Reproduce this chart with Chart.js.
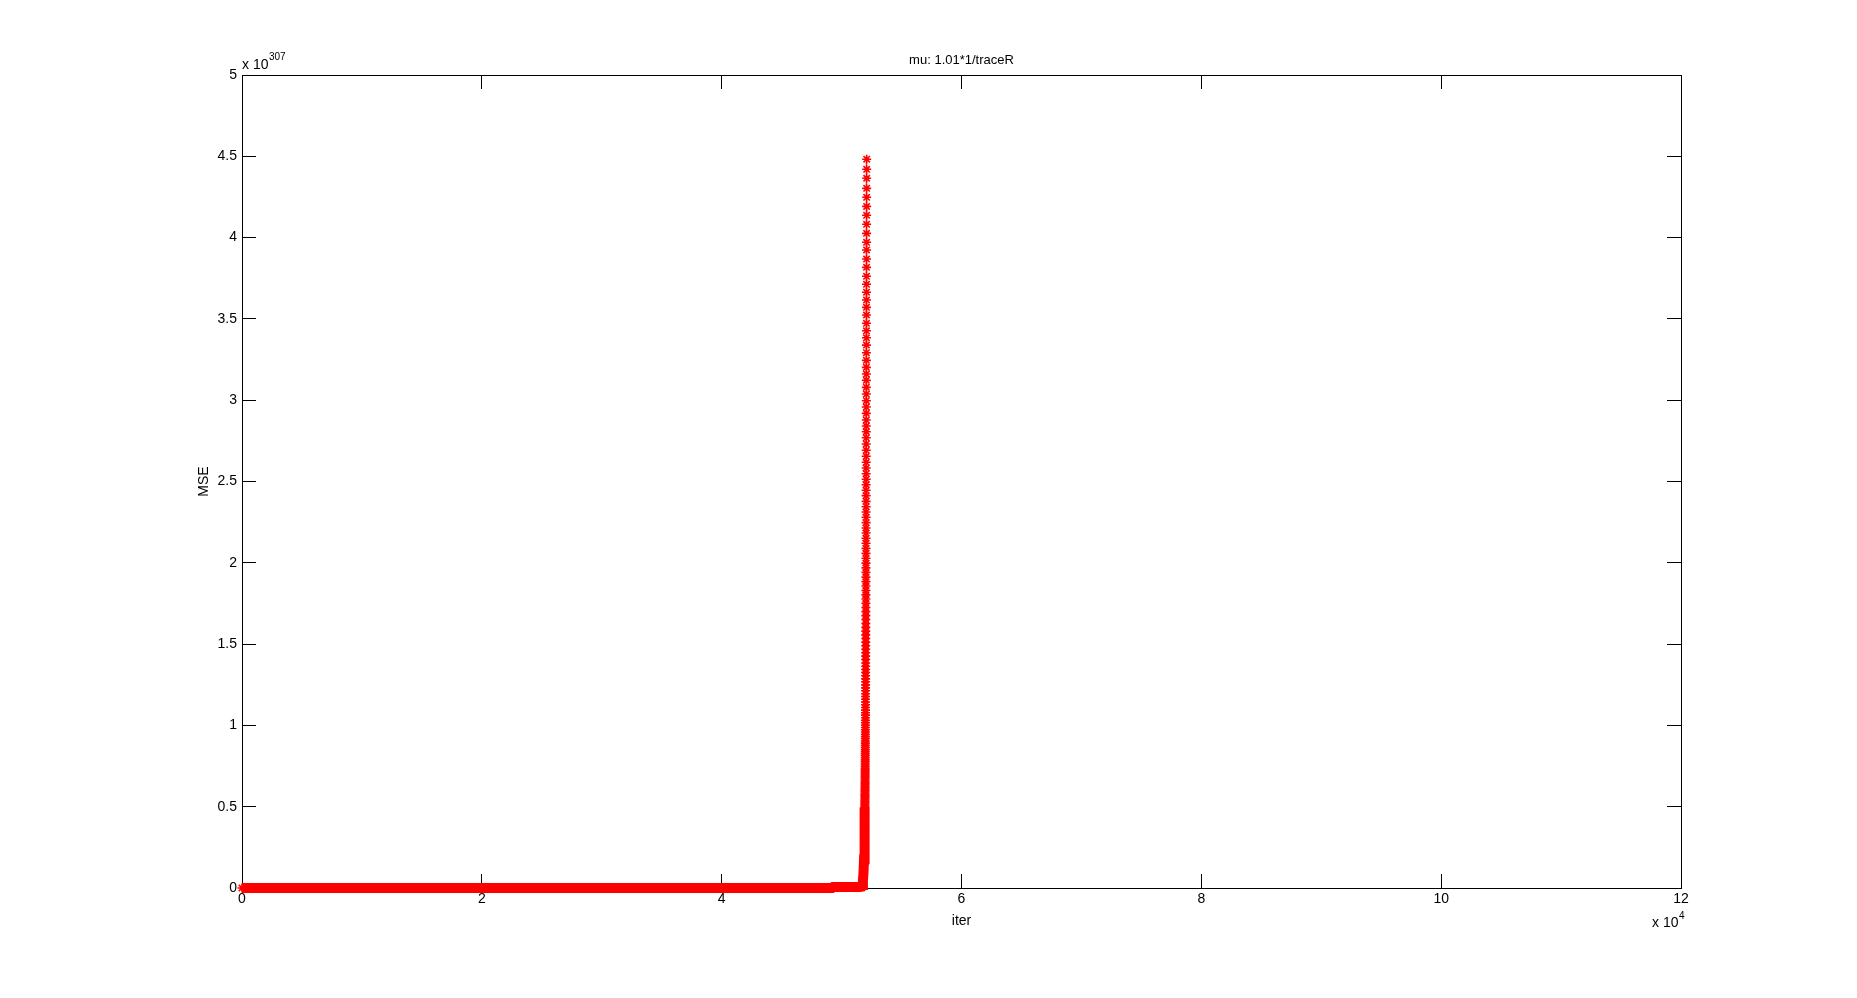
<!DOCTYPE html>
<html>
<head>
<meta charset="utf-8">
<script src="https://cdn.jsdelivr.net/npm/chart.js@4.4.1/dist/chart.umd.min.js"></script>
<style>
html,body{margin:0;padding:0;background:#ffffff;overflow:hidden;}
#c{display:block;}
</style>
</head>
<body>
<canvas id="c" width="1857" height="998"></canvas>
<script>
// ---- texts ----
const chartTitle = 'mu: 1.01*1/traceR';
const xAxisTitle = 'iter';
const yAxisTitle = 'MSE';
const xExponent = '4';
const yExponent = '307';

// ---- axis ranges / ticks (iterations raw, MSE in units of 1e307) ----
const xRange = [0, 120000];
const xTickStep = 20000;
const yRange = [0, 5];
const yTickStep = 0.5;

// ---- series: iteration numbers ----
const iterations = [
  0, 2000, 4000, 6000, 8000, 10000, 12000, 14000, 16000, 18000, 20000, 22000, 24000,
  26000, 28000, 30000, 32000, 34000, 36000, 38000, 40000, 42000, 44000, 46000, 48000, 49200,
  49300, 51500, 51660, 51720, 51780, 51830, 51870, 51900, 51920, 51940,
  51941, 51942, 51943, 51944, 51945, 51946, 51947, 51948, 51949, 51950,
  51951, 51952, 51953, 51954, 51955, 51956, 51957, 51958, 51959, 51960,
  51961, 51962, 51963, 51964, 51965, 51966, 51967, 51968, 51969, 51970,
  51971, 51972, 51973, 51974, 51975, 51976, 51977, 51978, 51979, 51980,
  51981, 51982, 51983, 51984, 51985, 51986, 51987, 51988, 51989, 51990,
  51991, 51992, 51993, 51994, 51995, 51996, 51997, 51998, 51999,
  52000, 52001, 52002, 52003, 52004, 52005, 52006, 52007, 52008, 52009,
  52010, 52011, 52012, 52013, 52014, 52015, 52016, 52017, 52018, 52019,
  52020, 52021, 52022, 52023, 52024, 52025, 52026, 52027, 52028, 52029,
  52030, 52031, 52032, 52033, 52034, 52035, 52036,
  52037, 52038, 52039, 52040, 52041, 52042, 52043, 52044, 52045, 52046,
  52047, 52048, 52049, 52050, 52051, 52052, 52053, 52054, 52055, 52056,
  52057, 52058, 52059, 52060, 52061, 52062, 52063, 52064, 52065, 52066,
  52067, 52068, 52069, 52070, 52071, 52072, 52073, 52074, 52075, 52076,
  52077, 52078,
  52079, 52080, 52081, 52082, 52083, 52084, 52085, 52086, 52087, 52088,
  52089, 52090, 52091, 52092, 52093, 52094
];

// ---- series: MSE values (x 10^307) ----
const mse = [
  0, 0, 0, 0, 0, 0, 0, 0, 0, 0, 0, 0, 0,
  0, 0, 0, 0, 0, 0, 0, 0, 0, 0, 0, 0, 0,
  0.006, 0.006, 0.008, 0.019, 0.047, 0.098, 0.177, 0.276, 0.370, 0.495,
  0.502, 0.510, 0.517, 0.525, 0.533, 0.541, 0.549, 0.557, 0.565, 0.573,
  0.581, 0.590, 0.599, 0.608, 0.617, 0.626, 0.635, 0.645, 0.654, 0.664,
  0.674, 0.684, 0.694, 0.704, 0.714, 0.725, 0.736, 0.747, 0.758, 0.769,
  0.780, 0.792, 0.804, 0.816, 0.828, 0.840, 0.852, 0.865, 0.878, 0.891,
  0.904, 0.918, 0.931, 0.945, 0.959, 0.973, 0.987, 1.002, 1.017, 1.032,
  1.047, 1.063, 1.078, 1.094, 1.110, 1.127, 1.144, 1.161, 1.178,
  1.195, 1.213, 1.231, 1.249, 1.268, 1.286, 1.305, 1.325, 1.344, 1.364,
  1.384, 1.405, 1.426, 1.447, 1.468, 1.490, 1.512, 1.534, 1.557, 1.580,
  1.603, 1.627, 1.651, 1.675, 1.700, 1.725, 1.751, 1.777, 1.803, 1.830,
  1.857, 1.884, 1.912, 1.941, 1.969, 1.998, 2.028,
  2.058, 2.089, 2.120, 2.151, 2.183, 2.214, 2.247, 2.280, 2.312, 2.345,
  2.378, 2.413, 2.446, 2.480, 2.514, 2.548, 2.583, 2.618, 2.655, 2.692,
  2.731, 2.769, 2.806, 2.841, 2.878, 2.919, 2.958, 2.997, 3.038, 3.079,
  3.122, 3.161, 3.202, 3.245, 3.292, 3.339, 3.384, 3.427, 3.473, 3.524,
  3.571, 3.616,
  3.664, 3.713, 3.762, 3.817, 3.868, 3.924, 3.971, 4.026, 4.082, 4.137,
  4.192, 4.248, 4.303, 4.365, 4.420, 4.482
];

// ---- styling ----
const FONT = "'Liberation Sans', Arial, Helvetica, sans-serif";
const RED = '#ff0000';
const BLACK = '#000000';

const points = iterations.map((it, i) => ({ x: it, y: mse[i] }));

const textPlugin = {
  id: 'matlabTexts',
  afterDraw(chart) {
    const { ctx, chartArea: a } = chart;
    ctx.save();
    ctx.fillStyle = BLACK;
    ctx.font = '13px ' + FONT;
    ctx.textAlign = 'center';
    ctx.textBaseline = 'middle';
    ctx.fillText(chartTitle, (a.left + a.right) / 2, a.top - 15);
    ctx.font = '14px ' + FONT;
    ctx.fillText(xAxisTitle, (a.left + a.right) / 2, a.bottom + 33);
    ctx.save();
    ctx.translate(a.left - 38, (a.top + a.bottom) / 2);
    ctx.rotate(-Math.PI / 2);
    ctx.fillText(yAxisTitle, 0, 0);
    ctx.restore();
    // y exponent
    ctx.textAlign = 'left';
    ctx.font = '14px ' + FONT;
    ctx.fillText('x 10', a.left, a.top - 10);
    let w = ctx.measureText('x 10').width;
    ctx.font = '10px ' + FONT;
    ctx.fillText(yExponent, a.left + w + 0.5, a.top - 18);
    // x exponent
    ctx.font = '14px ' + FONT;
    ctx.fillText('x 10', a.right - 29, a.bottom + 35);
    w = ctx.measureText('x 10').width;
    ctx.font = '10px ' + FONT;
    ctx.fillText(xExponent, a.right - 29 + w + 0.5, a.bottom + 28);
    ctx.restore();
  }
};

function axisBase() {
  return {
    type: 'linear',
    grid: { drawOnChartArea: false, drawTicks: true, tickLength: -14, color: BLACK, lineWidth: 1 },
    border: { display: true, color: BLACK, width: 1 }
  };
}
const tickFont = { family: FONT, size: 14 };
const fmt = v => String(Math.round(v * 1000) / 1000);

new Chart(document.getElementById('c'), {
  type: 'line',
  data: {
    datasets: [{
      label: yAxisTitle,
      data: points,
      borderColor: RED,
      backgroundColor: RED,
      borderWidth: 1,
      pointStyle: 'star',
      pointRadius: 4.5,
      pointHoverRadius: 4.5,
      pointBorderWidth: 1.6,
      pointBorderColor: RED,
      pointBackgroundColor: RED,
      tension: 0,
      fill: false,
      clip: false,
      borderJoinStyle: 'miter',
      segment: {
        borderWidth: c => (Math.max(c.p0.parsed.y, c.p1.parsed.y) <= 0.5 ? 10 : 1)
      }
    }]
  },
  options: {
    responsive: false,
    animation: false,
    devicePixelRatio: 1,
    events: [],
    layout: { padding: 0 },
    plugins: { legend: { display: false }, tooltip: { enabled: false }, title: { display: false } },
    scales: {
      x: Object.assign(axisBase(), {
        position: 'bottom', min: xRange[0], max: xRange[1],
        ticks: { stepSize: xTickStep, callback: v => fmt(v / 1e4), color: BLACK, font: tickFont, padding: 17, maxRotation: 0, autoSkip: false },
        afterFit: s => { s.height = 110; }
      }),
      x2: Object.assign(axisBase(), {
        position: 'top', min: xRange[0], max: xRange[1],
        ticks: { stepSize: xTickStep, display: false },
        afterFit: s => { s.height = 75; }
      }),
      y: Object.assign(axisBase(), {
        position: 'left', min: yRange[0], max: yRange[1],
        ticks: { stepSize: yTickStep, callback: v => fmt(v), color: BLACK, font: tickFont, padding: 19, autoSkip: false },
        afterFit: s => { s.width = 242; }
      }),
      y2: Object.assign(axisBase(), {
        position: 'right', min: yRange[0], max: yRange[1],
        ticks: { stepSize: yTickStep, display: false },
        afterFit: s => { s.width = 176; }
      })
    }
  },
  plugins: [textPlugin]
});
</script>
</body>
</html>
